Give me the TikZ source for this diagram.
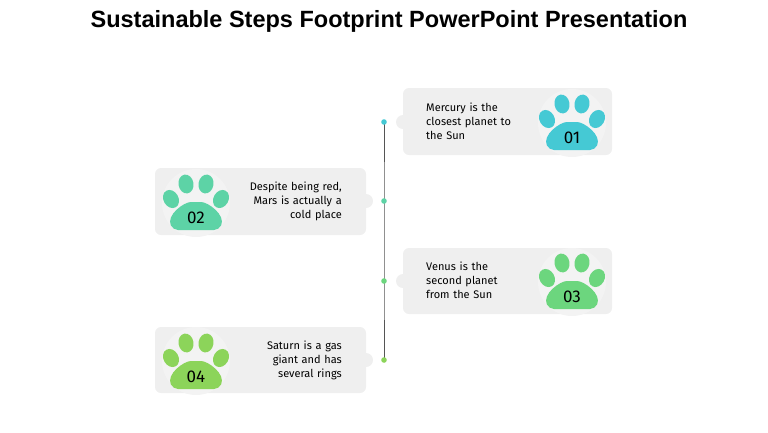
\documentclass[tikz,border=0pt]{standalone}
\usepackage{fontspec}
\setmainfont{Fira Sans}
\newfontfamily\titlefont{Liberation Sans}
\usetikzlibrary{positioning}
\definecolor{boxgray}{HTML}{EFEFEF}
\definecolor{linegray}{HTML}{555555}
\definecolor{pawA}{HTML}{45C9D4}
\definecolor{pawB}{HTML}{5DD3A6}
\definecolor{pawC}{HTML}{6CD67E}
\definecolor{pawD}{HTML}{8CD45A}
\tikzset{
  infobox/.style={fill=boxgray, rounded corners=6pt},
  infotext/.style={font=\fontsize{11}{14}\selectfont, text width=110pt, inner sep=0pt},
  dot/.style={circle, inner sep=0pt, minimum size=5pt}
}
% paw print: #1 name, #2 position, #3 colour, #4 number
\newcommand\pawprint[4]{%
  \begin{scope}[shift={#2}]
    \fill[#3, rounded corners=5pt] (-23,15) .. controls (-30,0) and (-12,-13) .. (0,-13)
      .. controls (12,-13) and (30,0) .. (23,15) -- cycle;
    \fill[#3, rotate around={30:(-25,-16)}] (-25,-16) ellipse (7.5 and 9.5);
    \fill[#3, rotate around={10:(-10,-31)}] (-10,-31) ellipse (7.5 and 9.5);
    \fill[#3, rotate around={-10:(10,-31)}] (10,-31) ellipse (7.5 and 9.5);
    \fill[#3, rotate around={-30:(25,-16)}] (25,-16) ellipse (7.5 and 9.5);
    \node[font=\fontsize{17}{17}\selectfont] (#1) at (0,3) {#4};
  \end{scope}}
\begin{document}
\begin{tikzpicture}[x=1pt,y=-1pt]
  \useasboundingbox (0,0) rectangle (768,432);
  \node[font=\titlefont\bfseries\fontsize{23.5}{24}\selectfont] (title) at (389,21)
    {Sustainable Steps Footprint PowerPoint Presentation};

  % boxes
  \fill[infobox] (403,88) rectangle (612,155);
  \fill[boxgray] (403,122) circle (7);
  \fill[infobox] (155,168) rectangle (366,235);
  \fill[boxgray] (366,201) circle (7);
  \fill[infobox] (403,248) rectangle (612,314);
  \fill[boxgray] (403,281) circle (7);
  \fill[infobox] (155,327) rectangle (366,393);
  \fill[boxgray] (366,360) circle (7);
  \foreach \p in {(572,123),(196,203),(572,282),(196,361)}
    \fill[white!25!boxgray] \p circle (34);

  % paws
  \pawprint{n1}{(572,135)}{pawA}{01}
  \pawprint{n2}{(196,215)}{pawB}{02}
  \pawprint{n3}{(572,294)}{pawC}{03}
  \pawprint{n4}{(196,374)}{pawD}{04}

  % texts
  \node[infotext, align=left, anchor=west] (t1) at (426,121)
    {Mercury is the\\closest planet to\\the Sun};
  \node[infotext, align=right, anchor=east] (t2) at (342,201)
    {Despite being red,\\Mars is actually a\\cold place};
  \node[infotext, align=left, anchor=west] (t3) at (426,280)
    {Venus is the\\second planet\\from the Sun};
  \node[infotext, align=right, anchor=east] (t4) at (342,360)
    {Saturn is a gas\\giant and has\\several rings};

  % timeline
  \coordinate (d1) at (384,122);
  \coordinate (d2) at (384,201);
  \coordinate (d3) at (384,281);
  \coordinate (d4) at (384,360);
  \draw[linegray, line width=0.8pt] (d1) -- (d2) -- (d3) -- (d4);
  \fill[pawA] (d1) circle (2.8);
  \fill[pawB] (d2) circle (2.8);
  \fill[pawC] (d3) circle (2.8);
  \fill[pawD] (d4) circle (2.8);
\end{tikzpicture}
\end{document}
